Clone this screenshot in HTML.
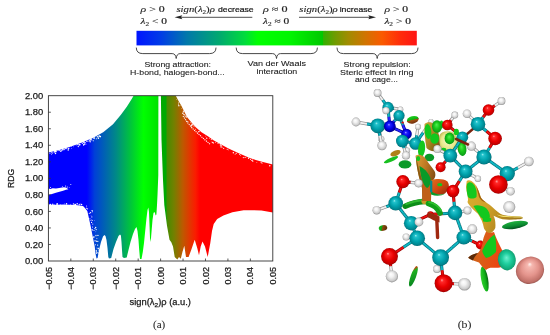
<!DOCTYPE html>
<html><head><meta charset="utf-8"><title>NCI analysis</title>
<style>html,body{margin:0;padding:0;background:#fff;} svg{display:block;}</style>
</head><body>
<svg width='550' height='335' viewBox='0 0 550 335'><defs>
<linearGradient id="bar" x1="136.5" x2="416.8" y1="0" y2="0" gradientUnits="userSpaceOnUse">
 <stop offset="0" stop-color="#0014ff"/>
 <stop offset="0.087" stop-color="#003ce6"/>
 <stop offset="0.18" stop-color="#0078aa"/>
 <stop offset="0.298" stop-color="#00aa6e"/>
 <stop offset="0.387" stop-color="#00dc3c"/>
 <stop offset="0.4335" stop-color="#00ff00"/>
 <stop offset="0.547" stop-color="#00f500"/>
 <stop offset="0.6636" stop-color="#00c800"/>
 <stop offset="0.667" stop-color="#32af00"/>
 <stop offset="0.708" stop-color="#6e9b00"/>
 <stop offset="0.7545" stop-color="#a08c00"/>
 <stop offset="0.8187" stop-color="#d27300"/>
 <stop offset="0.876" stop-color="#fa5a00"/>
 <stop offset="0.94" stop-color="#ff2d0a"/>
 <stop offset="1" stop-color="#ff1414"/>
</linearGradient>
<linearGradient id="gl" x1="48" x2="159" y1="0" y2="0" gradientUnits="userSpaceOnUse">
 <stop offset="0" stop-color="#0000ff"/>
 <stop offset="0.35" stop-color="#0000ff"/>
 <stop offset="0.42" stop-color="#0040d8"/>
 <stop offset="0.61" stop-color="#008888"/>
 <stop offset="0.75" stop-color="#00c838"/>
 <stop offset="0.86" stop-color="#00ff00"/>
 <stop offset="1" stop-color="#00e000"/>
</linearGradient>
<linearGradient id="gr" x1="161" x2="273" y1="0" y2="0" gradientUnits="userSpaceOnUse">
 <stop offset="0" stop-color="#00aa00"/>
 <stop offset="0.0446" stop-color="#00a800"/>
 <stop offset="0.0536" stop-color="#468c00"/>
 <stop offset="0.116" stop-color="#738000"/>
 <stop offset="0.196" stop-color="#be5800"/>
 <stop offset="0.25" stop-color="#de3a00"/>
 <stop offset="0.308" stop-color="#fa1c00"/>
 <stop offset="0.348" stop-color="#ff0000"/>
 <stop offset="1" stop-color="#ff0000"/>
</linearGradient>
<radialGradient id="aC" cx="0.5" cy="0.5" r="0.55" fx="0.4" fy="0.32">
 <stop offset="0" stop-color="#a0f0f0"/>
 <stop offset="0.16" stop-color="#22c2cc"/>
 <stop offset="0.55" stop-color="#00a2ac"/>
 <stop offset="0.85" stop-color="#00828c"/>
 <stop offset="1" stop-color="#00464e"/>
</radialGradient>
<radialGradient id="aO" cx="0.5" cy="0.5" r="0.55" fx="0.4" fy="0.32">
 <stop offset="0" stop-color="#ffa0a0"/>
 <stop offset="0.16" stop-color="#ff2828"/>
 <stop offset="0.55" stop-color="#e80000"/>
 <stop offset="0.85" stop-color="#c00000"/>
 <stop offset="1" stop-color="#680000"/>
</radialGradient>
<radialGradient id="aH" cx="0.5" cy="0.5" r="0.55" fx="0.4" fy="0.32">
 <stop offset="0" stop-color="#ffffff"/>
 <stop offset="0.35" stop-color="#f2f2f2"/>
 <stop offset="0.75" stop-color="#cccccc"/>
 <stop offset="1" stop-color="#7a7a7a"/>
</radialGradient>
<radialGradient id="aN" cx="0.5" cy="0.5" r="0.55" fx="0.42" fy="0.34">
 <stop offset="0" stop-color="#a0a0ff"/>
 <stop offset="0.22" stop-color="#2020ff"/>
 <stop offset="0.6" stop-color="#0000e0"/>
 <stop offset="1" stop-color="#000070"/>
</radialGradient>
<radialGradient id="aP" cx="0.5" cy="0.5" r="0.55" fx="0.62" fy="0.3">
 <stop offset="0" stop-color="#fff4f0"/>
 <stop offset="0.15" stop-color="#f6b8b0"/>
 <stop offset="0.55" stop-color="#e4948c"/>
 <stop offset="0.85" stop-color="#c07068"/>
 <stop offset="1" stop-color="#7c4440"/>
</radialGradient>
<radialGradient id="aT" cx="0.5" cy="0.5" r="0.55" fx="0.5" fy="0.4">
 <stop offset="0" stop-color="#70f0d0"/>
 <stop offset="0.45" stop-color="#20d0a0"/>
 <stop offset="0.85" stop-color="#10a878"/>
 <stop offset="1" stop-color="#087050"/>
</radialGradient>
<radialGradient id="nY" cx="0.5" cy="0.5" r="0.6" fx="0.4" fy="0.4">
 <stop offset="0" stop-color="#fafac8"/>
 <stop offset="0.6" stop-color="#e8e88c"/>
 <stop offset="1" stop-color="#b8b048"/>
</radialGradient>
<linearGradient id="nG" x1="0" y1="0" x2="0" y2="1">
 <stop offset="0" stop-color="#40f040"/>
 <stop offset="0.5" stop-color="#00c000"/>
 <stop offset="1" stop-color="#006000"/>
</linearGradient>
<linearGradient id="nGO" x1="0" y1="0" x2="0" y2="1">
 <stop offset="0" stop-color="#20d020"/>
 <stop offset="0.45" stop-color="#10b010"/>
 <stop offset="0.55" stop-color="#a05010"/>
 <stop offset="1" stop-color="#703010"/>
</linearGradient>
<linearGradient id="nGold" x1="0" y1="0" x2="1" y2="1">
 <stop offset="0" stop-color="#e0c040"/>
 <stop offset="0.5" stop-color="#c09020"/>
 <stop offset="1" stop-color="#805010"/>
</linearGradient>
<linearGradient id="nOr" x1="0" y1="0" x2="1" y2="1">
 <stop offset="0" stop-color="#e07020"/>
 <stop offset="0.5" stop-color="#d04810"/>
 <stop offset="1" stop-color="#8a2a10"/>
</linearGradient>
<linearGradient id="nGB" x1="0" y1="0" x2="1" y2="0.3">
 <stop offset="0" stop-color="#20c020"/>
 <stop offset="0.45" stop-color="#10a010"/>
 <stop offset="0.55" stop-color="#8a4a10"/>
 <stop offset="1" stop-color="#603008"/>
</linearGradient>
<linearGradient id="nGold2" x1="0" y1="0" x2="1" y2="0.4">
 <stop offset="0" stop-color="#d8b030"/>
 <stop offset="0.5" stop-color="#d0a028"/>
 <stop offset="1" stop-color="#a07818"/>
</linearGradient>
<linearGradient id="nOr2" x1="0" y1="0" x2="1" y2="0.2">
 <stop offset="0" stop-color="#b86018"/>
 <stop offset="0.4" stop-color="#d86018"/>
 <stop offset="1" stop-color="#f04010"/>
</linearGradient>
<linearGradient id="nGv" x1="0" y1="0" x2="1" y2="0">
 <stop offset="0" stop-color="#30d030"/>
 <stop offset="0.6" stop-color="#10b018"/>
 <stop offset="1" stop-color="#066010"/>
</linearGradient>
<linearGradient id="nDG" x1="0" y1="0" x2="0" y2="1">
 <stop offset="0" stop-color="#20b040"/>
 <stop offset="0.6" stop-color="#0a8a30"/>
 <stop offset="1" stop-color="#045020"/>
</linearGradient>
<linearGradient id="nGold3" x1="0" y1="0" x2="1" y2="1">
 <stop offset="0" stop-color="#c8a838"/>
 <stop offset="0.5" stop-color="#a88420"/>
 <stop offset="1" stop-color="#6a4a10"/>
</linearGradient>
<radialGradient id="nGb" cx="0.5" cy="0.5" r="0.55" fx="0.45" fy="0.35">
 <stop offset="0" stop-color="#50f050"/>
 <stop offset="0.5" stop-color="#18c818"/>
 <stop offset="1" stop-color="#08901a"/>
</radialGradient>
<linearGradient id="nGr" x1="0" y1="0" x2="0.3" y2="1">
 <stop offset="0" stop-color="#d04010"/>
 <stop offset="0.18" stop-color="#b05010"/>
 <stop offset="0.3" stop-color="#20b020"/>
 <stop offset="1" stop-color="#0a8a20"/>
</linearGradient>
<linearGradient id="nOrB" x1="0" y1="0" x2="1" y2="0.6">
 <stop offset="0" stop-color="#d8a038"/>
 <stop offset="0.45" stop-color="#c07a24"/>
 <stop offset="1" stop-color="#7a4610"/>
</linearGradient>
</defs>
<text x='140.6' y='12.3' font-size='8.6' font-family='"Liberation Serif", serif' fill='#222' stroke='#222' stroke-width='0.1' textLength='24.2' lengthAdjust='spacingAndGlyphs'><tspan font-style='italic'>ρ</tspan> &gt; <tspan stroke-width='0.2'>0</tspan></text><text x='140.6' y='24.3' font-size='8.6' font-family='"Liberation Serif", serif' fill='#222' stroke='#222' stroke-width='0.1' textLength='26.5' lengthAdjust='spacingAndGlyphs'><tspan font-style='italic'>λ</tspan><tspan font-size='5.5' dy='1.6'>2</tspan><tspan dy='-1.6'> </tspan>&lt; <tspan stroke-width='0.2'>0</tspan></text><text x='263.0' y='12.3' font-size='8.6' font-family='"Liberation Serif", serif' fill='#222' stroke='#222' stroke-width='0.1' textLength='24.5' lengthAdjust='spacingAndGlyphs'><tspan font-style='italic'>ρ</tspan> ≈ <tspan stroke-width='0.2'>0</tspan></text><text x='263.0' y='24.3' font-size='8.6' font-family='"Liberation Serif", serif' fill='#222' stroke='#222' stroke-width='0.1' textLength='26.2' lengthAdjust='spacingAndGlyphs'><tspan font-style='italic'>λ</tspan><tspan font-size='5.5' dy='1.6'>2</tspan><tspan dy='-1.6'> </tspan>≈ <tspan stroke-width='0.2'>0</tspan></text><text x='384.4' y='12.3' font-size='8.6' font-family='"Liberation Serif", serif' fill='#222' stroke='#222' stroke-width='0.1' textLength='23.8' lengthAdjust='spacingAndGlyphs'><tspan font-style='italic'>ρ</tspan> &gt; <tspan stroke-width='0.2'>0</tspan></text><text x='384.4' y='24.3' font-size='8.6' font-family='"Liberation Serif", serif' fill='#222' stroke='#222' stroke-width='0.1' textLength='26.6' lengthAdjust='spacingAndGlyphs'><tspan font-style='italic'>λ</tspan><tspan font-size='5.5' dy='1.6'>2</tspan><tspan dy='-1.6'> </tspan>&gt; <tspan stroke-width='0.2'>0</tspan></text><text x='176.4' y='12.3' font-size='8.4' font-family='"Liberation Serif", serif' fill='#222' stroke='#222' stroke-width='0.1' textLength='38.5' lengthAdjust='spacingAndGlyphs'><tspan font-style='italic'>sign</tspan>(<tspan font-style='italic'>λ</tspan><tspan font-size='5.5' dy='1.6'>2</tspan><tspan dy='-1.6'>)</tspan><tspan font-style='italic'>ρ</tspan></text><text x='218.0' y='12.3' font-size='7.6' font-family='"Liberation Sans", Arial, sans-serif' fill='#1a1a1a' stroke='#1a1a1a' stroke-width='0.22' textLength="35.7" lengthAdjust="spacingAndGlyphs" >decrease</text><text x='299.3' y='12.3' font-size='8.4' font-family='"Liberation Serif", serif' fill='#222' stroke='#222' stroke-width='0.1' textLength='38.5' lengthAdjust='spacingAndGlyphs'><tspan font-style='italic'>sign</tspan>(<tspan font-style='italic'>λ</tspan><tspan font-size='5.5' dy='1.6'>2</tspan><tspan dy='-1.6'>)</tspan><tspan font-style='italic'>ρ</tspan></text><text x='339.7' y='12.3' font-size='7.6' font-family='"Liberation Sans", Arial, sans-serif' fill='#1a1a1a' stroke='#1a1a1a' stroke-width='0.22' textLength="32.7" lengthAdjust="spacingAndGlyphs" >increase</text><line x1='180' y1='17.3' x2='252.3' y2='17.3' stroke='#222' stroke-width='0.8'/><path d='M174.6,17.3 L182.3,15.3 L181,17.3 L182.3,19.3 Z' fill='#222'/><line x1='299' y1='17.3' x2='371' y2='17.3' stroke='#222' stroke-width='0.8'/><path d='M376,17.3 L368.3,15.3 L369.6,17.3 L368.3,19.3 Z' fill='#222'/><rect x='136.5' y='30.8' width='280.3' height='14.6' fill='url(#bar)'/><path d='M136.3,47.6 Q136.3,53.6 142.8,53.6 L172.2,53.6 Q175.7,53.6 176.2,58.5 Q176.7,53.6 180.2,53.6 L209.5,53.6 Q216.0,53.6 216.0,47.6' fill='none' stroke='#333' stroke-width='0.9'/><path d='M236.2,47.6 Q236.2,53.6 242.7,53.6 L272.5,53.6 Q276.0,53.6 276.5,58.5 Q277.0,53.6 280.5,53.6 L310.9,53.6 Q317.4,53.6 317.4,47.6' fill='none' stroke='#333' stroke-width='0.9'/><path d='M337.0,47.6 Q337.0,53.6 343.5,53.6 L373.2,53.6 Q376.7,53.6 377.2,58.5 Q377.7,53.6 381.2,53.6 L411.5,53.6 Q418.0,53.6 418.0,47.6' fill='none' stroke='#333' stroke-width='0.9'/><text x='144.4' y='66.7' font-size='7.4' font-family='"Liberation Sans", Arial, sans-serif' fill='#222' stroke='#222' stroke-width='0.1' textLength="66.6" lengthAdjust="spacingAndGlyphs" >Strong attraction:</text><text x='130.0' y='74.5' font-size='7.4' font-family='"Liberation Sans", Arial, sans-serif' fill='#222' stroke='#222' stroke-width='0.1' textLength="94.6" lengthAdjust="spacingAndGlyphs" >H-bond, halogen-bond...</text><text x='247.5' y='65.9' font-size='7.4' font-family='"Liberation Sans", Arial, sans-serif' fill='#222' stroke='#222' stroke-width='0.1' textLength="58.5" lengthAdjust="spacingAndGlyphs" >Van der Waals</text><text x='256.5' y='73.8' font-size='7.4' font-family='"Liberation Sans", Arial, sans-serif' fill='#222' stroke='#222' stroke-width='0.1' textLength="40.8" lengthAdjust="spacingAndGlyphs" >interaction</text><text x='343.6' y='66.6' font-size='7.4' font-family='"Liberation Sans", Arial, sans-serif' fill='#222' stroke='#222' stroke-width='0.1' textLength="67.0" lengthAdjust="spacingAndGlyphs" >Strong repulsion:</text><text x='340.0' y='74.5' font-size='7.4' font-family='"Liberation Sans", Arial, sans-serif' fill='#222' stroke='#222' stroke-width='0.1' textLength="73.4" lengthAdjust="spacingAndGlyphs" >Steric effect in ring</text><text x='355.0' y='82.2' font-size='7.4' font-family='"Liberation Sans", Arial, sans-serif' fill='#222' stroke='#222' stroke-width='0.1' textLength="43.0" lengthAdjust="spacingAndGlyphs" >and cage...</text><path d='M48.4,152.6 L57.8,150.4 L69.6,147.0 L81.5,142.7 L93.3,137.7 L103.2,132.3 L113,124.2 L120.9,114.7 L126.8,106.8 L131.7,98.9 L133.6,95.7 L158.4,95.7 L158.3,175 L157.5,195 L157,205 L156.4,214.5 L155.6,215.5 L155,213 L154.3,212 L153.5,213 L152.5,220 L151.5,232 L150.7,242 L150,238 L149.5,225 L149,212 L148.3,207.5 L147.5,210 L146.5,218 L145.3,230 L144,243 L142.8,252 L141.5,259 L140,259 L139.2,250 L138.5,240 L137.5,231 L136.5,227 L135,229 L133,234 L130.5,242 L128.5,250 L126.7,257.5 L124,258 L122.5,257 L122,250 L121.5,242 L120.9,235.5 L120,234.5 L118.5,236 L116,242 L113.5,249 L111.2,258 L109,258.5 L108.3,257 L107.5,248 L106.5,240 L105.5,236 L104.4,235 L103,236.5 L101,242 L99,250 L97.6,258 L96.5,258.5 L95.6,254 L94.7,246.3 L92.8,237 L91,227.8 L89,218.5 L87.3,211 L84.5,207.5 L83,206 L75.9,204.9 L64,204.6 L48.4,204.9 Z' fill='url(#gl)'/><path d='M160.9,95.7 L175.8,95.7 L178.8,101.5 L181,105 L184,111 L187,117 L191.5,122.5 L196,127.4 L201.5,132.2 L207.9,136.3 L213.5,140.3 L219.8,143.8 L228,148.3 L237.7,152.8 L250.3,158.3 L262,161.8 L272.8,164.5 L272.8,212.6 L261.5,210.4 L243.6,210.2 L232.4,212.3 L223.4,215.5 L217.2,218.9 L213.7,224 L212,231 L210.3,243 L207.7,257 L205,246.6 L202.5,241.4 L200.7,246.6 L199,255.3 L197.3,248.3 L194.7,239.7 L191.2,250 L188.6,257 L186,257 L184.3,245.7 L182.5,251.8 L180.8,258.7 L179,257 L177.3,259.6 L174.7,257 L173,246.6 L171.3,242.3 L169.5,239.7 L167,225.8 L164.3,205 L163,180 L161.5,140 Z' fill='url(#gr)'/><path d='M48.4,188.4 L50.5,189 L52.6,188.2 L56,188.4 L59.2,187.9 L62,187.6 L63.8,187.3 L66,187.4 L68.4,189.2 L66,189.8 L63.1,190.8 L59.5,191.8 L55.9,192.8 L52,193.9 L48.4,195 Z' fill='#fff'/><g fill='#fff'><circle cx='65.6' cy='186' r='0.6'/><circle cx='67.4' cy='186.9' r='0.5'/><circle cx='70.8' cy='184.6' r='0.5'/><circle cx='69.2' cy='187.6' r='0.45'/><circle cx='62.5' cy='186.5' r='0.45'/><circle cx='50.5' cy='187.6' r='0.5'/></g><g fill='#ffffff'><circle cx='65.78' cy='148.58' r='0.61'/><circle cx='52.59' cy='153.01' r='0.50'/><circle cx='51.80' cy='153.11' r='0.36'/><circle cx='71.54' cy='146.67' r='0.39'/><circle cx='71.74' cy='148.70' r='0.40'/><circle cx='60.79' cy='151.25' r='0.73'/><circle cx='79.18' cy='144.57' r='0.74'/><circle cx='51.45' cy='154.40' r='0.47'/><circle cx='56.23' cy='151.19' r='0.47'/><circle cx='91.22' cy='139.13' r='0.58'/><circle cx='82.40' cy='143.31' r='0.57'/><circle cx='51.84' cy='152.14' r='0.43'/><circle cx='84.56' cy='142.55' r='0.48'/><circle cx='79.67' cy='144.55' r='0.47'/><circle cx='90.66' cy='140.86' r='0.45'/><circle cx='79.17' cy='144.96' r='0.70'/><circle cx='86.91' cy='141.19' r='0.74'/><circle cx='54.96' cy='152.12' r='0.65'/><circle cx='56.83' cy='151.88' r='0.37'/><circle cx='84.35' cy='143.78' r='0.58'/><circle cx='94.37' cy='137.99' r='0.63'/><circle cx='80.25' cy='144.74' r='0.53'/><circle cx='93.32' cy='140.71' r='0.54'/><circle cx='83.45' cy='142.24' r='0.63'/><circle cx='83.62' cy='145.03' r='0.68'/><circle cx='63.84' cy='149.64' r='0.62'/><circle cx='49.87' cy='153.43' r='0.42'/><circle cx='54.75' cy='151.46' r='0.66'/><circle cx='55.48' cy='151.59' r='0.51'/><circle cx='93.98' cy='137.74' r='0.53'/><circle cx='78.29' cy='146.56' r='0.68'/><circle cx='93.78' cy='138.23' r='0.52'/><circle cx='68.21' cy='150.05' r='0.73'/><circle cx='56.60' cy='151.19' r='0.44'/><circle cx='61.20' cy='150.68' r='0.59'/><circle cx='62.51' cy='149.36' r='0.52'/><circle cx='68.46' cy='148.84' r='0.73'/><circle cx='85.16' cy='142.56' r='0.60'/><circle cx='84.06' cy='141.98' r='0.71'/><circle cx='90.17' cy='141.75' r='0.67'/><circle cx='69.55' cy='148.03' r='0.39'/><circle cx='81.94' cy='142.88' r='0.38'/><circle cx='59.70' cy='150.35' r='0.49'/><circle cx='51.29' cy='152.23' r='0.41'/><circle cx='54.04' cy='152.20' r='0.36'/><circle cx='94.72' cy='138.74' r='0.41'/><circle cx='62.11' cy='150.05' r='0.50'/><circle cx='55.53' cy='153.41' r='0.75'/><circle cx='73.51' cy='146.87' r='0.38'/><circle cx='54.07' cy='152.14' r='0.46'/><circle cx='91.86' cy='138.83' r='0.36'/><circle cx='98.28' cy='136.47' r='0.41'/><circle cx='77.20' cy='144.58' r='0.56'/><circle cx='100.16' cy='136.73' r='0.63'/><circle cx='62.59' cy='149.96' r='0.42'/><circle cx='89.31' cy='140.86' r='0.66'/><circle cx='66.13' cy='148.61' r='0.67'/><circle cx='100.45' cy='136.52' r='0.67'/><circle cx='91.93' cy='140.47' r='0.44'/><circle cx='76.07' cy='145.59' r='0.36'/><circle cx='50.06' cy='152.93' r='0.45'/><circle cx='85.86' cy='143.92' r='0.53'/><circle cx='98.39' cy='138.26' r='0.73'/><circle cx='67.97' cy='148.07' r='0.44'/><circle cx='59.08' cy='150.60' r='0.60'/><circle cx='96.35' cy='138.74' r='0.54'/><circle cx='83.63' cy='144.22' r='0.38'/><circle cx='84.17' cy='144.44' r='0.66'/><circle cx='88.15' cy='141.18' r='0.42'/><circle cx='89.98' cy='140.00' r='0.67'/><circle cx='99.10' cy='135.61' r='0.51'/><circle cx='98.39' cy='137.14' r='0.42'/><circle cx='55.31' cy='151.45' r='0.71'/><circle cx='90.71' cy='139.29' r='0.68'/><circle cx='99.89' cy='136.05' r='0.49'/><circle cx='77.53' cy='144.59' r='0.36'/><circle cx='99.43' cy='136.28' r='0.56'/><circle cx='97.32' cy='136.70' r='0.70'/><circle cx='91.75' cy='138.97' r='0.45'/><circle cx='64.19' cy='149.20' r='0.58'/></g><g fill='#ffffff'><circle cx='191.95' cy='124.60' r='0.40'/><circle cx='261.11' cy='162.55' r='0.53'/><circle cx='223.70' cy='148.39' r='0.52'/><circle cx='261.99' cy='163.07' r='0.56'/><circle cx='218.06' cy='143.52' r='0.53'/><circle cx='186.32' cy='116.98' r='0.67'/><circle cx='185.21' cy='116.07' r='0.64'/><circle cx='221.41' cy='145.75' r='0.56'/><circle cx='220.86' cy='146.49' r='0.39'/><circle cx='221.87' cy='145.88' r='0.46'/><circle cx='245.04' cy='157.37' r='0.57'/><circle cx='243.31' cy='157.62' r='0.53'/><circle cx='227.24' cy='149.31' r='0.55'/><circle cx='236.20' cy='153.37' r='0.56'/><circle cx='212.42' cy='142.27' r='0.63'/><circle cx='256.84' cy='162.60' r='0.45'/><circle cx='221.10' cy='147.08' r='0.69'/><circle cx='183.75' cy='112.01' r='0.53'/><circle cx='180.12' cy='105.13' r='0.38'/><circle cx='233.34' cy='152.82' r='0.71'/><circle cx='183.78' cy='114.35' r='0.61'/><circle cx='182.80' cy='113.28' r='0.74'/><circle cx='187.84' cy='121.62' r='0.51'/><circle cx='213.34' cy='142.93' r='0.68'/><circle cx='184.68' cy='114.85' r='0.56'/><circle cx='199.19' cy='131.19' r='0.48'/><circle cx='239.72' cy='154.34' r='0.57'/><circle cx='209.44' cy='138.14' r='0.48'/><circle cx='228.56' cy='149.95' r='0.38'/><circle cx='269.79' cy='165.66' r='0.74'/><circle cx='181.84' cy='108.56' r='0.37'/><circle cx='245.95' cy='157.33' r='0.40'/><circle cx='206.73' cy='138.13' r='0.68'/><circle cx='192.17' cy='124.27' r='0.72'/><circle cx='222.57' cy='147.21' r='0.39'/><circle cx='178.46' cy='104.01' r='0.52'/><circle cx='178.91' cy='105.87' r='0.60'/><circle cx='248.56' cy='158.24' r='0.69'/><circle cx='178.69' cy='105.17' r='0.53'/><circle cx='198.81' cy='131.63' r='0.72'/><circle cx='192.94' cy='125.08' r='0.56'/><circle cx='190.54' cy='122.38' r='0.41'/><circle cx='178.73' cy='102.82' r='0.47'/><circle cx='195.38' cy='129.24' r='0.47'/><circle cx='215.50' cy='142.25' r='0.49'/><circle cx='176.77' cy='99.34' r='0.36'/><circle cx='240.64' cy='155.54' r='0.43'/><circle cx='211.89' cy='141.89' r='0.39'/><circle cx='250.45' cy='159.50' r='0.55'/><circle cx='252.30' cy='159.99' r='0.55'/><circle cx='235.15' cy='154.21' r='0.49'/><circle cx='251.85' cy='160.51' r='0.60'/><circle cx='205.67' cy='136.02' r='0.37'/><circle cx='183.39' cy='111.19' r='0.65'/><circle cx='191.91' cy='124.01' r='0.38'/><circle cx='252.78' cy='161.19' r='0.62'/><circle cx='194.01' cy='126.43' r='0.47'/><circle cx='211.26' cy='139.57' r='0.53'/><circle cx='191.38' cy='125.76' r='0.74'/><circle cx='220.47' cy='145.10' r='0.74'/></g><polyline points='183,116 187.5,122.5 192.5,128.5 198.5,134 204.5,139.5 210.5,144.5' fill='none' stroke='#fff' stroke-width='1.1' stroke-dasharray='1.1 0.9'/><g fill='#ffffff'><circle cx='91.45' cy='220.82' r='0.35'/><circle cx='92.76' cy='224.10' r='0.53'/><circle cx='91.05' cy='215.51' r='0.35'/><circle cx='90.04' cy='218.88' r='0.49'/><circle cx='86.40' cy='208.56' r='0.46'/><circle cx='91.85' cy='216.90' r='0.54'/><circle cx='97.34' cy='241.37' r='0.60'/><circle cx='96.97' cy='247.96' r='0.46'/><circle cx='96.61' cy='253.14' r='0.60'/><circle cx='93.63' cy='236.84' r='0.64'/><circle cx='98.35' cy='248.42' r='0.61'/><circle cx='95.48' cy='244.79' r='0.53'/><circle cx='96.19' cy='229.51' r='0.63'/><circle cx='97.63' cy='245.06' r='0.66'/><circle cx='96.91' cy='238.13' r='0.43'/><circle cx='86.26' cy='208.02' r='0.48'/><circle cx='92.08' cy='210.52' r='0.55'/><circle cx='95.97' cy='235.63' r='0.59'/><circle cx='92.16' cy='229.56' r='0.63'/><circle cx='96.42' cy='241.45' r='0.54'/><circle cx='93.83' cy='237.59' r='0.61'/><circle cx='89.89' cy='218.32' r='0.44'/><circle cx='94.89' cy='240.83' r='0.61'/><circle cx='98.05' cy='252.53' r='0.48'/><circle cx='94.95' cy='228.51' r='0.62'/><circle cx='95.97' cy='235.10' r='0.38'/><circle cx='89.31' cy='213.25' r='0.61'/><circle cx='92.49' cy='220.34' r='0.35'/><circle cx='87.52' cy='208.84' r='0.59'/><circle cx='96.89' cy='238.59' r='0.45'/><circle cx='94.03' cy='230.54' r='0.51'/><circle cx='92.64' cy='211.06' r='0.42'/><circle cx='100.95' cy='252.31' r='0.36'/><circle cx='95.67' cy='227.38' r='0.69'/><circle cx='92.50' cy='227.53' r='0.42'/><circle cx='96.59' cy='251.24' r='0.55'/><circle cx='90.53' cy='212.69' r='0.68'/><circle cx='92.27' cy='211.84' r='0.53'/><circle cx='98.81' cy='248.12' r='0.43'/><circle cx='97.57' cy='248.79' r='0.36'/><circle cx='86.63' cy='206.02' r='0.51'/><circle cx='90.56' cy='220.63' r='0.47'/><circle cx='94.35' cy='220.52' r='0.35'/><circle cx='98.54' cy='241.14' r='0.39'/><circle cx='99.09' cy='250.01' r='0.67'/><circle cx='91.32' cy='219.87' r='0.49'/><circle cx='98.72' cy='253.58' r='0.48'/><circle cx='92.30' cy='226.49' r='0.37'/><circle cx='92.04' cy='210.37' r='0.45'/><circle cx='96.68' cy='250.74' r='0.44'/><circle cx='92.78' cy='230.50' r='0.48'/><circle cx='100.44' cy='251.30' r='0.63'/><circle cx='97.93' cy='235.40' r='0.68'/><circle cx='95.83' cy='231.79' r='0.37'/><circle cx='95.99' cy='240.75' r='0.61'/><circle cx='94.38' cy='236.75' r='0.37'/><circle cx='96.22' cy='250.37' r='0.52'/><circle cx='91.54' cy='222.48' r='0.61'/><circle cx='96.95' cy='252.69' r='0.58'/><circle cx='92.39' cy='220.18' r='0.49'/></g><g fill='#ffffff'><circle cx='54.20' cy='204.41' r='0.43'/><circle cx='79.89' cy='204.79' r='0.44'/><circle cx='80.02' cy='204.03' r='0.53'/><circle cx='53.23' cy='204.41' r='0.39'/><circle cx='60.25' cy='204.34' r='0.45'/><circle cx='57.35' cy='203.91' r='0.70'/><circle cx='74.42' cy='204.24' r='0.52'/><circle cx='66.59' cy='204.09' r='0.49'/><circle cx='50.54' cy='204.38' r='0.74'/><circle cx='52.75' cy='204.09' r='0.60'/><circle cx='78.36' cy='204.86' r='0.46'/><circle cx='57.01' cy='204.13' r='0.53'/><circle cx='81.61' cy='204.53' r='0.70'/><circle cx='49.15' cy='204.58' r='0.63'/><circle cx='79.53' cy='204.76' r='0.58'/><circle cx='48.39' cy='204.31' r='0.72'/><circle cx='77.21' cy='203.84' r='0.74'/><circle cx='57.01' cy='204.39' r='0.41'/><circle cx='66.54' cy='203.69' r='0.73'/><circle cx='73.46' cy='203.91' r='0.66'/><circle cx='64.28' cy='203.82' r='0.37'/><circle cx='75.54' cy='204.46' r='0.72'/><circle cx='70.80' cy='204.27' r='0.40'/><circle cx='57.12' cy='203.82' r='0.63'/><circle cx='52.28' cy='204.50' r='0.56'/></g><rect x='48.4' y='95.7' width='224.4' height='165.3' fill='none' stroke='#333' stroke-width='0.9'/><text x='43.2' y='264.1' font-size='9.0' font-family='"Liberation Sans", Arial, sans-serif' fill='#1a1a1a' stroke='#1a1a1a' stroke-width='0.25' text-anchor="end" textLength="18.3" lengthAdjust="spacingAndGlyphs" >0.00</text><line x1='48.4' y1='244.47' x2='50.9' y2='244.47' stroke='#333' stroke-width='0.8'/><text x='43.2' y='247.57' font-size='9.0' font-family='"Liberation Sans", Arial, sans-serif' fill='#1a1a1a' stroke='#1a1a1a' stroke-width='0.25' text-anchor="end" textLength="18.3" lengthAdjust="spacingAndGlyphs" >0.20</text><line x1='48.4' y1='227.94' x2='50.9' y2='227.94' stroke='#333' stroke-width='0.8'/><text x='43.2' y='231.04' font-size='9.0' font-family='"Liberation Sans", Arial, sans-serif' fill='#1a1a1a' stroke='#1a1a1a' stroke-width='0.25' text-anchor="end" textLength="18.3" lengthAdjust="spacingAndGlyphs" >0.40</text><line x1='48.4' y1='211.41' x2='50.9' y2='211.41' stroke='#333' stroke-width='0.8'/><text x='43.2' y='214.51' font-size='9.0' font-family='"Liberation Sans", Arial, sans-serif' fill='#1a1a1a' stroke='#1a1a1a' stroke-width='0.25' text-anchor="end" textLength="18.3" lengthAdjust="spacingAndGlyphs" >0.60</text><line x1='48.4' y1='194.88' x2='50.9' y2='194.88' stroke='#333' stroke-width='0.8'/><text x='43.2' y='197.98' font-size='9.0' font-family='"Liberation Sans", Arial, sans-serif' fill='#1a1a1a' stroke='#1a1a1a' stroke-width='0.25' text-anchor="end" textLength="18.3" lengthAdjust="spacingAndGlyphs" >0.80</text><line x1='48.4' y1='178.35' x2='50.9' y2='178.35' stroke='#333' stroke-width='0.8'/><text x='43.2' y='181.45' font-size='9.0' font-family='"Liberation Sans", Arial, sans-serif' fill='#1a1a1a' stroke='#1a1a1a' stroke-width='0.25' text-anchor="end" textLength="18.3" lengthAdjust="spacingAndGlyphs" >1.00</text><line x1='48.4' y1='161.82' x2='50.9' y2='161.82' stroke='#333' stroke-width='0.8'/><text x='43.2' y='164.92' font-size='9.0' font-family='"Liberation Sans", Arial, sans-serif' fill='#1a1a1a' stroke='#1a1a1a' stroke-width='0.25' text-anchor="end" textLength="18.3" lengthAdjust="spacingAndGlyphs" >1.20</text><line x1='48.4' y1='145.29' x2='50.9' y2='145.29' stroke='#333' stroke-width='0.8'/><text x='43.2' y='148.39' font-size='9.0' font-family='"Liberation Sans", Arial, sans-serif' fill='#1a1a1a' stroke='#1a1a1a' stroke-width='0.25' text-anchor="end" textLength="18.3" lengthAdjust="spacingAndGlyphs" >1.40</text><line x1='48.4' y1='128.76' x2='50.9' y2='128.76' stroke='#333' stroke-width='0.8'/><text x='43.2' y='131.86' font-size='9.0' font-family='"Liberation Sans", Arial, sans-serif' fill='#1a1a1a' stroke='#1a1a1a' stroke-width='0.25' text-anchor="end" textLength="18.3" lengthAdjust="spacingAndGlyphs" >1.60</text><line x1='48.4' y1='112.23' x2='50.9' y2='112.23' stroke='#333' stroke-width='0.8'/><text x='43.2' y='115.33' font-size='9.0' font-family='"Liberation Sans", Arial, sans-serif' fill='#1a1a1a' stroke='#1a1a1a' stroke-width='0.25' text-anchor="end" textLength="18.3" lengthAdjust="spacingAndGlyphs" >1.80</text><text x='43.2' y='98.8' font-size='9.0' font-family='"Liberation Sans", Arial, sans-serif' fill='#1a1a1a' stroke='#1a1a1a' stroke-width='0.25' text-anchor="end" textLength="18.3" lengthAdjust="spacingAndGlyphs" >2.00</text><text transform='translate(51.50,267) rotate(-90)' x='0' y='0' font-size='9' text-anchor='end' font-family='"Liberation Sans", sans-serif' fill='#1a1a1a' stroke='#1a1a1a' stroke-width='0.25'>−0.05</text><line x1='70.84' y1='261.0' x2='70.84' y2='258.5' stroke='#333' stroke-width='0.8'/><text transform='translate(73.94,267) rotate(-90)' x='0' y='0' font-size='9' text-anchor='end' font-family='"Liberation Sans", sans-serif' fill='#1a1a1a' stroke='#1a1a1a' stroke-width='0.25'>−0.04</text><line x1='93.28' y1='261.0' x2='93.28' y2='258.5' stroke='#333' stroke-width='0.8'/><text transform='translate(96.38,267) rotate(-90)' x='0' y='0' font-size='9' text-anchor='end' font-family='"Liberation Sans", sans-serif' fill='#1a1a1a' stroke='#1a1a1a' stroke-width='0.25'>−0.03</text><line x1='115.72' y1='261.0' x2='115.72' y2='258.5' stroke='#333' stroke-width='0.8'/><text transform='translate(118.82,267) rotate(-90)' x='0' y='0' font-size='9' text-anchor='end' font-family='"Liberation Sans", sans-serif' fill='#1a1a1a' stroke='#1a1a1a' stroke-width='0.25'>−0.02</text><line x1='138.16' y1='261.0' x2='138.16' y2='258.5' stroke='#333' stroke-width='0.8'/><text transform='translate(141.26,267) rotate(-90)' x='0' y='0' font-size='9' text-anchor='end' font-family='"Liberation Sans", sans-serif' fill='#1a1a1a' stroke='#1a1a1a' stroke-width='0.25'>−0.01</text><line x1='160.60' y1='261.0' x2='160.60' y2='258.5' stroke='#333' stroke-width='0.8'/><text transform='translate(163.70,267) rotate(-90)' x='0' y='0' font-size='9' text-anchor='end' font-family='"Liberation Sans", sans-serif' fill='#1a1a1a' stroke='#1a1a1a' stroke-width='0.25'>0.00</text><line x1='183.04' y1='261.0' x2='183.04' y2='258.5' stroke='#333' stroke-width='0.8'/><text transform='translate(186.14,267) rotate(-90)' x='0' y='0' font-size='9' text-anchor='end' font-family='"Liberation Sans", sans-serif' fill='#1a1a1a' stroke='#1a1a1a' stroke-width='0.25'>0.01</text><line x1='205.48' y1='261.0' x2='205.48' y2='258.5' stroke='#333' stroke-width='0.8'/><text transform='translate(208.58,267) rotate(-90)' x='0' y='0' font-size='9' text-anchor='end' font-family='"Liberation Sans", sans-serif' fill='#1a1a1a' stroke='#1a1a1a' stroke-width='0.25'>0.02</text><line x1='227.92' y1='261.0' x2='227.92' y2='258.5' stroke='#333' stroke-width='0.8'/><text transform='translate(231.02,267) rotate(-90)' x='0' y='0' font-size='9' text-anchor='end' font-family='"Liberation Sans", sans-serif' fill='#1a1a1a' stroke='#1a1a1a' stroke-width='0.25'>0.03</text><line x1='250.36' y1='261.0' x2='250.36' y2='258.5' stroke='#333' stroke-width='0.8'/><text transform='translate(253.46,267) rotate(-90)' x='0' y='0' font-size='9' text-anchor='end' font-family='"Liberation Sans", sans-serif' fill='#1a1a1a' stroke='#1a1a1a' stroke-width='0.25'>0.04</text><text transform='translate(275.90,267) rotate(-90)' x='0' y='0' font-size='9' text-anchor='end' font-family='"Liberation Sans", sans-serif' fill='#1a1a1a' stroke='#1a1a1a' stroke-width='0.25'>0.05</text><text transform='translate(14.3,178.4) rotate(-90)' x='0' y='0' font-size='8.4' text-anchor='middle' font-family='"Liberation Sans", sans-serif' fill='#1a1a1a' stroke='#1a1a1a' stroke-width='0.25' textLength='19.2' lengthAdjust='spacingAndGlyphs'>RDG</text><text x='129.6' y='305' font-size='8.6' font-family='"Liberation Sans", sans-serif' fill='#1a1a1a' stroke='#1a1a1a' stroke-width='0.25' textLength='61.4' lengthAdjust='spacingAndGlyphs'>sign(λ<tspan font-size='6' dy='2'>2</tspan><tspan dy='-2'>)ρ (a.u.)</tspan></text><text x='153.0' y='328.0' font-size='11' font-family='"Liberation Serif", "Times New Roman", serif' fill='#222' stroke='#222' stroke-width='0.05' textLength="12.2" lengthAdjust="spacingAndGlyphs" >(a)</text><text x='457.7' y='328.0' font-size='11' font-family='"Liberation Serif", "Times New Roman", serif' fill='#222' stroke='#222' stroke-width='0.05' textLength="13.7" lengthAdjust="spacingAndGlyphs" >(b)</text><g><line x1='388.0' y1='107.4' x2='394.2' y2='108.4' stroke='#006e78' stroke-width='3.1'/><line x1='388.0' y1='107.4' x2='394.2' y2='108.4' stroke='#10b8c4' stroke-width='1.8'/><line x1='400.4' y1='109.4' x2='394.2' y2='108.4' stroke='#8c8c8c' stroke-width='3.1'/><line x1='400.4' y1='109.4' x2='394.2' y2='108.4' stroke='#f0f0f0' stroke-width='1.8'/><circle cx='400.4' cy='109.4' r='2.9' fill='url(#aH)'/><line x1='415.5' y1='143.5' x2='423.2' y2='132.6' stroke='#006e78' stroke-width='3.1'/><line x1='415.5' y1='143.5' x2='423.2' y2='132.6' stroke='#10b8c4' stroke-width='1.8'/><line x1='431.0' y1='121.7' x2='423.2' y2='132.6' stroke='#8c8c8c' stroke-width='3.1'/><line x1='431.0' y1='121.7' x2='423.2' y2='132.6' stroke='#f0f0f0' stroke-width='1.8'/><circle cx='431.0' cy='121.7' r='2.6' fill='url(#aH)'/><line x1='377.6' y1='93.0' x2='382.8' y2='100.2' stroke='#8c8c8c' stroke-width='3.1'/><line x1='377.6' y1='93.0' x2='382.8' y2='100.2' stroke='#f0f0f0' stroke-width='1.8'/><line x1='388.0' y1='107.4' x2='382.8' y2='100.2' stroke='#006e78' stroke-width='3.1'/><line x1='388.0' y1='107.4' x2='382.8' y2='100.2' stroke='#10b8c4' stroke-width='1.8'/><line x1='388.0' y1='107.4' x2='388.9' y2='116.8' stroke='#006e78' stroke-width='3.1'/><line x1='388.0' y1='107.4' x2='388.9' y2='116.8' stroke='#10b8c4' stroke-width='1.8'/><line x1='389.8' y1='126.3' x2='388.9' y2='116.8' stroke='#00009a' stroke-width='3.1'/><line x1='389.8' y1='126.3' x2='388.9' y2='116.8' stroke='#2828ff' stroke-width='1.8'/><line x1='388.0' y1='107.4' x2='387.0' y2='109.0' stroke='#006e78' stroke-width='3.1'/><line x1='388.0' y1='107.4' x2='387.0' y2='109.0' stroke='#10b8c4' stroke-width='1.8'/><line x1='386.0' y1='110.6' x2='387.0' y2='109.0' stroke='#8c8c8c' stroke-width='3.1'/><line x1='386.0' y1='110.6' x2='387.0' y2='109.0' stroke='#f0f0f0' stroke-width='1.8'/><line x1='377.8' y1='125.8' x2='366.9' y2='123.9' stroke='#006e78' stroke-width='3.1'/><line x1='377.8' y1='125.8' x2='366.9' y2='123.9' stroke='#10b8c4' stroke-width='1.8'/><line x1='356.0' y1='122.0' x2='366.9' y2='123.9' stroke='#8c8c8c' stroke-width='3.1'/><line x1='356.0' y1='122.0' x2='366.9' y2='123.9' stroke='#f0f0f0' stroke-width='1.8'/><line x1='377.8' y1='125.8' x2='379.6' y2='132.4' stroke='#006e78' stroke-width='3.1'/><line x1='377.8' y1='125.8' x2='379.6' y2='132.4' stroke='#10b8c4' stroke-width='1.8'/><line x1='381.3' y1='139.0' x2='379.6' y2='132.4' stroke='#8c8c8c' stroke-width='3.1'/><line x1='381.3' y1='139.0' x2='379.6' y2='132.4' stroke='#f0f0f0' stroke-width='1.8'/><line x1='389.8' y1='126.3' x2='394.4' y2='120.9' stroke='#00009a' stroke-width='3.1'/><line x1='389.8' y1='126.3' x2='394.4' y2='120.9' stroke='#2828ff' stroke-width='1.8'/><line x1='399.0' y1='115.6' x2='394.4' y2='120.9' stroke='#006e78' stroke-width='3.1'/><line x1='399.0' y1='115.6' x2='394.4' y2='120.9' stroke='#10b8c4' stroke-width='1.8'/><line x1='399.0' y1='115.6' x2='402.8' y2='124.8' stroke='#006e78' stroke-width='3.1'/><line x1='399.0' y1='115.6' x2='402.8' y2='124.8' stroke='#10b8c4' stroke-width='1.8'/><line x1='406.5' y1='134.0' x2='402.8' y2='124.8' stroke='#00009a' stroke-width='3.1'/><line x1='406.5' y1='134.0' x2='402.8' y2='124.8' stroke='#2828ff' stroke-width='1.8'/><line x1='402.3' y1='141.0' x2='408.9' y2='142.2' stroke='#006e78' stroke-width='3.1'/><line x1='402.3' y1='141.0' x2='408.9' y2='142.2' stroke='#10b8c4' stroke-width='1.8'/><line x1='415.5' y1='143.5' x2='408.9' y2='142.2' stroke='#006e78' stroke-width='3.1'/><line x1='415.5' y1='143.5' x2='408.9' y2='142.2' stroke='#10b8c4' stroke-width='1.8'/><line x1='402.3' y1='141.0' x2='404.6' y2='145.8' stroke='#006e78' stroke-width='3.1'/><line x1='402.3' y1='141.0' x2='404.6' y2='145.8' stroke='#10b8c4' stroke-width='1.8'/><line x1='407.0' y1='150.6' x2='404.6' y2='145.8' stroke='#8c8c8c' stroke-width='3.1'/><line x1='407.0' y1='150.6' x2='404.6' y2='145.8' stroke='#f0f0f0' stroke-width='1.8'/><line x1='415.5' y1='143.5' x2='416.8' y2='135.2' stroke='#006e78' stroke-width='3.1'/><line x1='415.5' y1='143.5' x2='416.8' y2='135.2' stroke='#10b8c4' stroke-width='1.8'/><line x1='418.0' y1='126.8' x2='416.8' y2='135.2' stroke='#8c8c8c' stroke-width='3.1'/><line x1='418.0' y1='126.8' x2='416.8' y2='135.2' stroke='#f0f0f0' stroke-width='1.8'/><line x1='488.5' y1='110.0' x2='495.0' y2='105.5' stroke='#900000' stroke-width='3.1'/><line x1='488.5' y1='110.0' x2='495.0' y2='105.5' stroke='#f01010' stroke-width='1.8'/><line x1='501.5' y1='101.0' x2='495.0' y2='105.5' stroke='#8c8c8c' stroke-width='3.1'/><line x1='501.5' y1='101.0' x2='495.0' y2='105.5' stroke='#f0f0f0' stroke-width='1.8'/><line x1='478.0' y1='124.2' x2='472.5' y2='119.0' stroke='#006e78' stroke-width='3.1'/><line x1='478.0' y1='124.2' x2='472.5' y2='119.0' stroke='#10b8c4' stroke-width='1.8'/><line x1='467.0' y1='113.7' x2='472.5' y2='119.0' stroke='#8c8c8c' stroke-width='3.1'/><line x1='467.0' y1='113.7' x2='472.5' y2='119.0' stroke='#f0f0f0' stroke-width='1.8'/><line x1='447.3' y1='125.0' x2='451.1' y2='120.0' stroke='#900000' stroke-width='3.1'/><line x1='447.3' y1='125.0' x2='451.1' y2='120.0' stroke='#f01010' stroke-width='1.8'/><line x1='454.8' y1='115.0' x2='451.1' y2='120.0' stroke='#8c8c8c' stroke-width='3.1'/><line x1='454.8' y1='115.0' x2='451.1' y2='120.0' stroke='#f0f0f0' stroke-width='1.8'/><line x1='484.0' y1='157.0' x2='477.7' y2='151.6' stroke='#006e78' stroke-width='3.1'/><line x1='484.0' y1='157.0' x2='477.7' y2='151.6' stroke='#10b8c4' stroke-width='1.8'/><line x1='471.4' y1='146.2' x2='477.7' y2='151.6' stroke='#8c8c8c' stroke-width='3.1'/><line x1='471.4' y1='146.2' x2='477.7' y2='151.6' stroke='#f0f0f0' stroke-width='1.8'/><line x1='507.3' y1='173.6' x2='518.1' y2='167.6' stroke='#006e78' stroke-width='3.1'/><line x1='507.3' y1='173.6' x2='518.1' y2='167.6' stroke='#10b8c4' stroke-width='1.8'/><line x1='528.9' y1='161.5' x2='518.1' y2='167.6' stroke='#8c8c8c' stroke-width='3.1'/><line x1='528.9' y1='161.5' x2='518.1' y2='167.6' stroke='#f0f0f0' stroke-width='1.8'/><line x1='465.6' y1='171.5' x2='471.8' y2='175.1' stroke='#006e78' stroke-width='3.1'/><line x1='465.6' y1='171.5' x2='471.8' y2='175.1' stroke='#10b8c4' stroke-width='1.8'/><line x1='477.9' y1='178.7' x2='471.8' y2='175.1' stroke='#8c8c8c' stroke-width='3.1'/><line x1='477.9' y1='178.7' x2='471.8' y2='175.1' stroke='#f0f0f0' stroke-width='1.8'/><line x1='455.0' y1='212.9' x2='461.2' y2='211.7' stroke='#006e78' stroke-width='3.1'/><line x1='455.0' y1='212.9' x2='461.2' y2='211.7' stroke='#10b8c4' stroke-width='1.8'/><line x1='467.5' y1='210.5' x2='461.2' y2='211.7' stroke='#8c8c8c' stroke-width='3.1'/><line x1='467.5' y1='210.5' x2='461.2' y2='211.7' stroke='#f0f0f0' stroke-width='1.8'/><line x1='463.8' y1='237.3' x2='472.1' y2='241.2' stroke='#006e78' stroke-width='3.1'/><line x1='463.8' y1='237.3' x2='472.1' y2='241.2' stroke='#10b8c4' stroke-width='1.8'/><line x1='480.3' y1='245.0' x2='472.1' y2='241.2' stroke='#900000' stroke-width='3.1'/><line x1='480.3' y1='245.0' x2='472.1' y2='241.2' stroke='#f01010' stroke-width='1.8'/><line x1='440.6' y1='257.6' x2='438.8' y2='263.3' stroke='#006e78' stroke-width='3.1'/><line x1='440.6' y1='257.6' x2='438.8' y2='263.3' stroke='#10b8c4' stroke-width='1.8'/><line x1='437.0' y1='269.0' x2='438.8' y2='263.3' stroke='#8c8c8c' stroke-width='3.1'/><line x1='437.0' y1='269.0' x2='438.8' y2='263.3' stroke='#f0f0f0' stroke-width='1.8'/><line x1='395.7' y1='203.3' x2='386.2' y2='206.8' stroke='#006e78' stroke-width='3.1'/><line x1='395.7' y1='203.3' x2='386.2' y2='206.8' stroke='#10b8c4' stroke-width='1.8'/><line x1='376.7' y1='210.2' x2='386.2' y2='206.8' stroke='#8c8c8c' stroke-width='3.1'/><line x1='376.7' y1='210.2' x2='386.2' y2='206.8' stroke='#f0f0f0' stroke-width='1.8'/><line x1='417.2' y1='238.2' x2='411.7' y2='237.6' stroke='#006e78' stroke-width='3.1'/><line x1='417.2' y1='238.2' x2='411.7' y2='237.6' stroke='#10b8c4' stroke-width='1.8'/><line x1='406.2' y1='237.0' x2='411.7' y2='237.6' stroke='#8c8c8c' stroke-width='3.1'/><line x1='406.2' y1='237.0' x2='411.7' y2='237.6' stroke='#f0f0f0' stroke-width='1.8'/><circle cx='377.6' cy='93.0' r='3.9' fill='url(#aH)'/><circle cx='388.0' cy='107.4' r='5.6' fill='url(#aC)'/><circle cx='399.0' cy='115.6' r='5.6' fill='url(#aC)'/><circle cx='356.0' cy='122.0' r='4.4' fill='url(#aH)'/><circle cx='381.3' cy='139.0' r='3.1' fill='url(#aH)'/><circle cx='415.5' cy='143.5' r='6.3' fill='url(#aC)'/><circle cx='418.0' cy='126.8' r='3.0' fill='url(#aH)'/><circle cx='407.0' cy='150.6' r='3.1' fill='url(#aH)'/><circle cx='454.8' cy='115.0' r='3.4' fill='url(#aH)'/><circle cx='467.0' cy='113.7' r='4.3' fill='url(#aH)'/><circle cx='501.5' cy='101.0' r='3.9' fill='url(#aH)'/><circle cx='471.4' cy='146.2' r='4.6' fill='url(#aH)'/><circle cx='528.9' cy='161.5' r='4.8' fill='url(#aH)'/><circle cx='477.9' cy='178.7' r='3.2' fill='url(#aH)'/><circle cx='376.7' cy='210.2' r='4.2' fill='url(#aH)'/><circle cx='406.2' cy='237.0' r='3.6' fill='url(#aH)'/><circle cx='467.5' cy='210.5' r='4.0' fill='url(#aH)'/><circle cx='437.0' cy='269.0' r='3.9' fill='url(#aH)'/><circle cx='480.3' cy='245.0' r='4.4' fill='url(#aO)'/><ellipse cx='383.0' cy='228.0' rx='4.3' ry='2.9' transform='rotate(-10 383.0 228.0)' fill='url(#nGB)' /><ellipse cx='413.4' cy='276.3' rx='2.7' ry='10.8' transform='rotate(20 413.4 276.3)' fill='url(#nGr)' /><ellipse cx='402.6' cy='122.6' rx='1.3' ry='1.1' transform='rotate(0 402.6 122.6)' fill='#e01010' /><ellipse cx='405.0' cy='164.4' rx='6.4' ry='4.1' transform='rotate(0 405.0 164.4)' fill='#0a9a28' /><line x1='377.8' y1='125.8' x2='383.8' y2='126.0' stroke='#006e78' stroke-width='3.1'/><line x1='377.8' y1='125.8' x2='383.8' y2='126.0' stroke='#10b8c4' stroke-width='1.8'/><line x1='389.8' y1='126.3' x2='383.8' y2='126.0' stroke='#00009a' stroke-width='3.1'/><line x1='389.8' y1='126.3' x2='383.8' y2='126.0' stroke='#2828ff' stroke-width='1.8'/><line x1='377.8' y1='125.8' x2='379.9' y2='135.7' stroke='#006e78' stroke-width='3.1'/><line x1='377.8' y1='125.8' x2='379.9' y2='135.7' stroke='#10b8c4' stroke-width='1.8'/><line x1='382.0' y1='145.6' x2='379.9' y2='135.7' stroke='#8c8c8c' stroke-width='3.1'/><line x1='382.0' y1='145.6' x2='379.9' y2='135.7' stroke='#f0f0f0' stroke-width='1.8'/><line x1='389.8' y1='126.3' x2='398.1' y2='130.2' stroke='#00009a' stroke-width='3.1'/><line x1='389.8' y1='126.3' x2='398.1' y2='130.2' stroke='#2828ff' stroke-width='1.8'/><line x1='406.5' y1='134.0' x2='398.1' y2='130.2' stroke='#00009a' stroke-width='3.1'/><line x1='406.5' y1='134.0' x2='398.1' y2='130.2' stroke='#2828ff' stroke-width='1.8'/><line x1='406.5' y1='134.0' x2='404.4' y2='137.5' stroke='#00009a' stroke-width='3.1'/><line x1='406.5' y1='134.0' x2='404.4' y2='137.5' stroke='#2828ff' stroke-width='1.8'/><line x1='402.3' y1='141.0' x2='404.4' y2='137.5' stroke='#006e78' stroke-width='3.1'/><line x1='402.3' y1='141.0' x2='404.4' y2='137.5' stroke='#10b8c4' stroke-width='1.8'/><line x1='402.3' y1='141.0' x2='404.1' y2='148.2' stroke='#006e78' stroke-width='3.1'/><line x1='402.3' y1='141.0' x2='404.1' y2='148.2' stroke='#10b8c4' stroke-width='1.8'/><line x1='406.0' y1='155.5' x2='404.1' y2='148.2' stroke='#8c8c8c' stroke-width='3.1'/><line x1='406.0' y1='155.5' x2='404.1' y2='148.2' stroke='#f0f0f0' stroke-width='1.8'/><line x1='478.0' y1='124.2' x2='483.2' y2='117.1' stroke='#006e78' stroke-width='3.1'/><line x1='478.0' y1='124.2' x2='483.2' y2='117.1' stroke='#10b8c4' stroke-width='1.8'/><line x1='488.5' y1='110.0' x2='483.2' y2='117.1' stroke='#900000' stroke-width='3.1'/><line x1='488.5' y1='110.0' x2='483.2' y2='117.1' stroke='#f01010' stroke-width='1.8'/><line x1='478.0' y1='124.2' x2='486.6' y2='131.3' stroke='#006e78' stroke-width='3.1'/><line x1='478.0' y1='124.2' x2='486.6' y2='131.3' stroke='#10b8c4' stroke-width='1.8'/><line x1='495.1' y1='138.5' x2='486.6' y2='131.3' stroke='#900000' stroke-width='3.1'/><line x1='495.1' y1='138.5' x2='486.6' y2='131.3' stroke='#f01010' stroke-width='1.8'/><line x1='450.3' y1='155.6' x2='458.0' y2='163.6' stroke='#006e78' stroke-width='3.1'/><line x1='450.3' y1='155.6' x2='458.0' y2='163.6' stroke='#10b8c4' stroke-width='1.8'/><line x1='465.6' y1='171.5' x2='458.0' y2='163.6' stroke='#006e78' stroke-width='3.1'/><line x1='465.6' y1='171.5' x2='458.0' y2='163.6' stroke='#10b8c4' stroke-width='1.8'/><line x1='465.6' y1='171.5' x2='459.3' y2='181.2' stroke='#006e78' stroke-width='3.1'/><line x1='465.6' y1='171.5' x2='459.3' y2='181.2' stroke='#10b8c4' stroke-width='1.8'/><line x1='453.0' y1='191.0' x2='459.3' y2='181.2' stroke='#900000' stroke-width='3.1'/><line x1='453.0' y1='191.0' x2='459.3' y2='181.2' stroke='#f01010' stroke-width='1.8'/><line x1='465.6' y1='171.5' x2='474.8' y2='164.2' stroke='#006e78' stroke-width='3.1'/><line x1='465.6' y1='171.5' x2='474.8' y2='164.2' stroke='#10b8c4' stroke-width='1.8'/><line x1='484.0' y1='157.0' x2='474.8' y2='164.2' stroke='#006e78' stroke-width='3.1'/><line x1='484.0' y1='157.0' x2='474.8' y2='164.2' stroke='#10b8c4' stroke-width='1.8'/><line x1='484.0' y1='157.0' x2='489.6' y2='147.8' stroke='#006e78' stroke-width='3.1'/><line x1='484.0' y1='157.0' x2='489.6' y2='147.8' stroke='#10b8c4' stroke-width='1.8'/><line x1='495.1' y1='138.5' x2='489.6' y2='147.8' stroke='#900000' stroke-width='3.1'/><line x1='495.1' y1='138.5' x2='489.6' y2='147.8' stroke='#f01010' stroke-width='1.8'/><line x1='484.0' y1='157.0' x2='495.6' y2='165.3' stroke='#006e78' stroke-width='3.1'/><line x1='484.0' y1='157.0' x2='495.6' y2='165.3' stroke='#10b8c4' stroke-width='1.8'/><line x1='507.3' y1='173.6' x2='495.6' y2='165.3' stroke='#006e78' stroke-width='3.1'/><line x1='507.3' y1='173.6' x2='495.6' y2='165.3' stroke='#10b8c4' stroke-width='1.8'/><line x1='507.3' y1='173.6' x2='502.9' y2='179.1' stroke='#006e78' stroke-width='3.1'/><line x1='507.3' y1='173.6' x2='502.9' y2='179.1' stroke='#10b8c4' stroke-width='1.8'/><line x1='498.4' y1='184.5' x2='502.9' y2='179.1' stroke='#900000' stroke-width='3.1'/><line x1='498.4' y1='184.5' x2='502.9' y2='179.1' stroke='#f01010' stroke-width='1.8'/><line x1='498.4' y1='184.5' x2='504.4' y2='187.9' stroke='#900000' stroke-width='3.1'/><line x1='498.4' y1='184.5' x2='504.4' y2='187.9' stroke='#f01010' stroke-width='1.8'/><line x1='510.5' y1='191.3' x2='504.4' y2='187.9' stroke='#8c8c8c' stroke-width='3.1'/><line x1='510.5' y1='191.3' x2='504.4' y2='187.9' stroke='#f0f0f0' stroke-width='1.8'/><line x1='453.0' y1='191.0' x2='454.0' y2='201.9' stroke='#900000' stroke-width='3.1'/><line x1='453.0' y1='191.0' x2='454.0' y2='201.9' stroke='#f01010' stroke-width='1.8'/><line x1='455.0' y1='212.9' x2='454.0' y2='201.9' stroke='#006e78' stroke-width='3.1'/><line x1='455.0' y1='212.9' x2='454.0' y2='201.9' stroke='#10b8c4' stroke-width='1.8'/><line x1='455.0' y1='212.9' x2='459.4' y2='225.1' stroke='#006e78' stroke-width='3.1'/><line x1='455.0' y1='212.9' x2='459.4' y2='225.1' stroke='#10b8c4' stroke-width='1.8'/><line x1='463.8' y1='237.3' x2='459.4' y2='225.1' stroke='#006e78' stroke-width='3.1'/><line x1='463.8' y1='237.3' x2='459.4' y2='225.1' stroke='#10b8c4' stroke-width='1.8'/><line x1='463.8' y1='237.3' x2='468.1' y2='233.2' stroke='#006e78' stroke-width='3.1'/><line x1='463.8' y1='237.3' x2='468.1' y2='233.2' stroke='#10b8c4' stroke-width='1.8'/><line x1='472.3' y1='229.2' x2='468.1' y2='233.2' stroke='#8c8c8c' stroke-width='3.1'/><line x1='472.3' y1='229.2' x2='468.1' y2='233.2' stroke='#f0f0f0' stroke-width='1.8'/><line x1='463.8' y1='237.3' x2='452.2' y2='247.5' stroke='#006e78' stroke-width='3.1'/><line x1='463.8' y1='237.3' x2='452.2' y2='247.5' stroke='#10b8c4' stroke-width='1.8'/><line x1='440.6' y1='257.6' x2='452.2' y2='247.5' stroke='#006e78' stroke-width='3.1'/><line x1='440.6' y1='257.6' x2='452.2' y2='247.5' stroke='#10b8c4' stroke-width='1.8'/><line x1='440.6' y1='257.6' x2='428.9' y2='247.9' stroke='#006e78' stroke-width='3.1'/><line x1='440.6' y1='257.6' x2='428.9' y2='247.9' stroke='#10b8c4' stroke-width='1.8'/><line x1='417.2' y1='238.2' x2='428.9' y2='247.9' stroke='#006e78' stroke-width='3.1'/><line x1='417.2' y1='238.2' x2='428.9' y2='247.9' stroke='#10b8c4' stroke-width='1.8'/><line x1='440.6' y1='257.6' x2='442.1' y2='270.4' stroke='#006e78' stroke-width='3.1'/><line x1='440.6' y1='257.6' x2='442.1' y2='270.4' stroke='#10b8c4' stroke-width='1.8'/><line x1='443.6' y1='283.2' x2='442.1' y2='270.4' stroke='#900000' stroke-width='3.1'/><line x1='443.6' y1='283.2' x2='442.1' y2='270.4' stroke='#f01010' stroke-width='1.8'/><line x1='443.6' y1='283.2' x2='454.1' y2='283.8' stroke='#900000' stroke-width='3.1'/><line x1='443.6' y1='283.2' x2='454.1' y2='283.8' stroke='#f01010' stroke-width='1.8'/><line x1='464.5' y1='284.3' x2='454.1' y2='283.8' stroke='#8c8c8c' stroke-width='3.1'/><line x1='464.5' y1='284.3' x2='454.1' y2='283.8' stroke='#f0f0f0' stroke-width='1.8'/><line x1='417.2' y1='238.2' x2='403.4' y2='247.3' stroke='#006e78' stroke-width='3.1'/><line x1='417.2' y1='238.2' x2='403.4' y2='247.3' stroke='#10b8c4' stroke-width='1.8'/><line x1='389.5' y1='256.5' x2='403.4' y2='247.3' stroke='#900000' stroke-width='3.1'/><line x1='389.5' y1='256.5' x2='403.4' y2='247.3' stroke='#f01010' stroke-width='1.8'/><line x1='389.5' y1='256.5' x2='390.7' y2='266.4' stroke='#900000' stroke-width='3.1'/><line x1='389.5' y1='256.5' x2='390.7' y2='266.4' stroke='#f01010' stroke-width='1.8'/><line x1='391.9' y1='276.3' x2='390.7' y2='266.4' stroke='#8c8c8c' stroke-width='3.1'/><line x1='391.9' y1='276.3' x2='390.7' y2='266.4' stroke='#f0f0f0' stroke-width='1.8'/><line x1='417.2' y1='238.2' x2='414.2' y2='230.7' stroke='#006e78' stroke-width='3.1'/><line x1='417.2' y1='238.2' x2='414.2' y2='230.7' stroke='#10b8c4' stroke-width='1.8'/><line x1='411.2' y1='223.2' x2='414.2' y2='230.7' stroke='#006e78' stroke-width='3.1'/><line x1='411.2' y1='223.2' x2='414.2' y2='230.7' stroke='#10b8c4' stroke-width='1.8'/><line x1='411.2' y1='223.2' x2='403.4' y2='213.2' stroke='#006e78' stroke-width='3.1'/><line x1='411.2' y1='223.2' x2='403.4' y2='213.2' stroke='#10b8c4' stroke-width='1.8'/><line x1='395.7' y1='203.3' x2='403.4' y2='213.2' stroke='#006e78' stroke-width='3.1'/><line x1='395.7' y1='203.3' x2='403.4' y2='213.2' stroke='#10b8c4' stroke-width='1.8'/><line x1='395.7' y1='203.3' x2='399.3' y2='192.4' stroke='#006e78' stroke-width='3.1'/><line x1='395.7' y1='203.3' x2='399.3' y2='192.4' stroke='#10b8c4' stroke-width='1.8'/><line x1='402.9' y1='181.6' x2='399.3' y2='192.4' stroke='#900000' stroke-width='3.1'/><line x1='402.9' y1='181.6' x2='399.3' y2='192.4' stroke='#f01010' stroke-width='1.8'/><line x1='402.9' y1='181.6' x2='410.8' y2='182.4' stroke='#900000' stroke-width='3.1'/><line x1='402.9' y1='181.6' x2='410.8' y2='182.4' stroke='#f01010' stroke-width='1.8'/><line x1='418.6' y1='183.3' x2='410.8' y2='182.4' stroke='#8c8c8c' stroke-width='3.1'/><line x1='418.6' y1='183.3' x2='410.8' y2='182.4' stroke='#f0f0f0' stroke-width='1.8'/><line x1='411.2' y1='223.2' x2='415.0' y2='222.6' stroke='#006e78' stroke-width='3.1'/><line x1='411.2' y1='223.2' x2='415.0' y2='222.6' stroke='#10b8c4' stroke-width='1.8'/><line x1='418.9' y1='222.0' x2='415.0' y2='222.6' stroke='#8c8c8c' stroke-width='3.1'/><line x1='418.9' y1='222.0' x2='415.0' y2='222.6' stroke='#f0f0f0' stroke-width='1.8'/><line x1='411.2' y1='223.2' x2='420.8' y2='218.8' stroke='#006e78' stroke-width='3.1'/><line x1='411.2' y1='223.2' x2='420.8' y2='218.8' stroke='#10b8c4' stroke-width='1.8'/><line x1='430.4' y1='214.4' x2='420.8' y2='218.8' stroke='#900000' stroke-width='3.1'/><line x1='430.4' y1='214.4' x2='420.8' y2='218.8' stroke='#f01010' stroke-width='1.8'/><line x1='430.4' y1='214.4' x2='442.7' y2='213.7' stroke='#900000' stroke-width='3.1'/><line x1='430.4' y1='214.4' x2='442.7' y2='213.7' stroke='#f01010' stroke-width='1.8'/><line x1='455.0' y1='212.9' x2='442.7' y2='213.7' stroke='#006e78' stroke-width='3.1'/><line x1='455.0' y1='212.9' x2='442.7' y2='213.7' stroke='#10b8c4' stroke-width='1.8'/><ellipse cx='395.5' cy='153.2' rx='5.4' ry='2.7' transform='rotate(-22 395.5 153.2)' fill='#b08018' /><ellipse cx='515.0' cy='225.0' rx='13.2' ry='3.7' transform='rotate(-9 515.0 225.0)' fill='url(#nDG)' /><ellipse cx='391.0' cy='159.7' rx='7.8' ry='1.9' transform='rotate(-24 391.0 159.7)' fill='#18c020' /><line x1='466.5' y1='134.5' x2='473.5' y2='128.5' stroke='#7a2410' stroke-width='2.4' stroke-linecap='round'/><circle cx='377.8' cy='125.8' r='7.4' fill='url(#aC)'/><circle cx='389.8' cy='126.3' r='5.9' fill='url(#aN)'/><circle cx='406.5' cy='134.0' r='5.3' fill='url(#aN)'/><circle cx='402.3' cy='141.0' r='6.3' fill='url(#aC)'/><circle cx='382.0' cy='145.6' r='4.7' fill='url(#aH)'/><circle cx='406.0' cy='155.5' r='4.1' fill='url(#aH)'/><circle cx='478.0' cy='124.2' r='7.3' fill='url(#aC)'/><circle cx='488.5' cy='110.0' r='5.8' fill='url(#aO)'/><circle cx='495.1' cy='138.5' r='6.8' fill='url(#aO)'/><circle cx='465.6' cy='171.5' r='6.9' fill='url(#aC)'/><circle cx='402.9' cy='181.6' r='6.6' fill='url(#aO)'/><circle cx='484.0' cy='157.0' r='7.6' fill='url(#aC)'/><circle cx='507.3' cy='173.6' r='7.6' fill='url(#aC)'/><circle cx='510.5' cy='191.3' r='4.3' fill='url(#aH)'/><circle cx='395.7' cy='203.3' r='7.3' fill='url(#aC)'/><circle cx='411.2' cy='223.2' r='7.3' fill='url(#aC)'/><circle cx='389.5' cy='256.5' r='8.4' fill='url(#aO)'/><circle cx='391.9' cy='276.3' r='6.1' fill='url(#aH)'/><circle cx='455.0' cy='212.9' r='7.3' fill='url(#aC)'/><circle cx='463.8' cy='237.3' r='7.3' fill='url(#aC)'/><circle cx='440.6' cy='257.6' r='8.4' fill='url(#aC)'/><circle cx='443.6' cy='283.2' r='9.0' fill='url(#aO)'/><circle cx='464.5' cy='284.3' r='6.3' fill='url(#aH)'/><circle cx='509.3' cy='207.1' r='6.0' fill='url(#aH)'/><path d='M424.5,124 C427,121.5 431,121.5 434,124 C437,129 440,136 440.6,143 C440.5,147 439,150 436,151 C432,151.5 428.5,150.5 426.5,148 C425,140 424.2,132 424.5,124 Z' fill='url(#nGold3)' /><ellipse cx='428.0' cy='131.5' rx='3.3' ry='7.6' transform='rotate(-6 428.0 131.5)' fill='#12c81e' /><ellipse cx='434.6' cy='138.5' rx='4.4' ry='5.3' transform='rotate(0 434.6 138.5)' fill='#12c81e' /><path d='M439.6,135 C441,131.5 446,130.5 451,131.5 C455.5,133 458,138 458.5,144 C458,149 455,152.3 450,152.5 C445,152.3 441,150 439.8,145 C439.3,141.5 439.2,138 439.6,135 Z' fill='url(#nY)' /><ellipse cx='449.6' cy='138.4' rx='5.0' ry='5.8' transform='rotate(0 449.6 138.4)' fill='url(#nGb)' /><ellipse cx='462.0' cy='148.6' rx='4.4' ry='7.4' transform='rotate(-8 462.0 148.6)' fill='url(#nGb)' /><ellipse cx='443.6' cy='150.2' rx='2.8' ry='2.4' transform='rotate(0 443.6 150.2)' fill='#12c81e' /><line x1='436.8' y1='219.5' x2='437.6' y2='237.5' stroke='#a02810' stroke-width='3.4' stroke-linecap='round'/><line x1='462.4' y1='137.2' x2='454.9' y2='131.1' stroke='#006e78' stroke-width='3.1'/><line x1='462.4' y1='137.2' x2='454.9' y2='131.1' stroke='#10b8c4' stroke-width='1.8'/><line x1='447.3' y1='125.0' x2='454.9' y2='131.1' stroke='#900000' stroke-width='3.1'/><line x1='447.3' y1='125.0' x2='454.9' y2='131.1' stroke='#f01010' stroke-width='1.8'/><line x1='462.4' y1='137.2' x2='456.4' y2='146.4' stroke='#006e78' stroke-width='3.1'/><line x1='462.4' y1='137.2' x2='456.4' y2='146.4' stroke='#10b8c4' stroke-width='1.8'/><line x1='450.3' y1='155.6' x2='456.4' y2='146.4' stroke='#006e78' stroke-width='3.1'/><line x1='450.3' y1='155.6' x2='456.4' y2='146.4' stroke='#10b8c4' stroke-width='1.8'/><circle cx='430.4' cy='214.4' r='3.2' fill='url(#aO)'/><path d='M428,212 C431,213 435,214 439.5,216.5 L439.5,222.5 C436,221.5 431,219 427.5,217 Z' fill='#9a2a10' /><path d='M405.2,206.2 Q414,202.2 424.5,201.4' fill='none' stroke='#0c8c18' stroke-width='5.6' stroke-linecap='round'/><path d='M406.2,204.2 Q414,200.6 423.5,199.9' fill='none' stroke='#30b830' stroke-width='2' stroke-linecap='round'/><ellipse cx='426.2' cy='201.6' rx='4.8' ry='3.0' transform='rotate(0 426.2 201.6)' fill='#c89a28' /><path d='M428.5,203.5 Q436.5,205.5 440,213' fill='none' stroke='#10a018' stroke-width='5.6' stroke-linecap='round'/><path d='M429,202.2 Q437,203.8 441.2,210.5' fill='none' stroke='#30c030' stroke-width='1.8' stroke-linecap='round'/><circle cx='462.4' cy='137.2' r='5.8' fill='url(#aC)'/><circle cx='386.0' cy='110.6' r='3.6' fill='url(#aH)'/><circle cx='498.4' cy='184.5' r='9.3' fill='url(#aO)'/><circle cx='418.9' cy='222.0' r='4.4' fill='url(#aH)'/><circle cx='417.2' cy='238.2' r='7.8' fill='url(#aC)'/><circle cx='472.3' cy='229.2' r='4.9' fill='url(#aH)'/><ellipse cx='456.3' cy='132.0' rx='2.6' ry='3.2' transform='rotate(0 456.3 132.0)' fill='#12c81e' /><ellipse cx='441.5' cy='124.5' rx='1.8' ry='4.0' transform='rotate(0 441.5 124.5)' fill='#12c81e' /><ellipse cx='421.6' cy='148.8' rx='3.5' ry='8.4' transform='rotate(6 421.6 148.8)' fill='#12c81e' /><ellipse cx='429.4' cy='157.5' rx='4.8' ry='3.8' transform='rotate(0 429.4 157.5)' fill='#0a9a28' /><ellipse cx='484.6' cy='279.0' rx='3.5' ry='12.8' transform='rotate(-10 484.6 279.0)' fill='url(#nGv)' /><path d='M415.7,155.5 C419,154 423,155 426.3,159.4 C429,164 432,167 434.5,171 C436.5,175 435,179 431.5,182 C431,188 430.5,194 430.5,201 L422.5,201 C422.5,195 422.4,190 421.5,185 C419,178 416.6,168 415.7,155.5 Z' fill='url(#nOrB)' /><path d='M487,230 C489,232.5 492,233 494,232 C496,238 499,244 502,250 L507.7,262 C505,266 500,268.5 494,267.7 C490,267.5 488,268 486,270 C483,268 481,265 479,262.5 C476,261.5 473,260.5 471,259.5 C469.5,258.8 468.5,258.2 468.2,257.8 C470,255.5 474,253.5 478,252.9 C481,250 482.5,245 483,240 C484,236 485.5,232.5 487,230 Z' fill='url(#nOr2)' /><path d='M415.7,155.5 C416.5,168 419,178 421.5,185 C422.4,190 422.5,195 422.5,201 L424.5,201 C424.5,193 423.5,186 422,180 C419.5,172 417.5,163 415.7,155.5 Z' fill='#8a5a12' /><path d='M422,182 C425,180 429,180 431.5,182 L431,201 L422.5,201 Z' fill='#c06018' /><path d='M482.2,251 C485,244 489,238 494.5,234.5 C496,239 496.5,245 496,252 C493,255 489,257.5 486,258 C484,256 482.8,253.5 482.2,251 Z' fill='#12c81e' /><path d='M468.2,257.8 C470,255.5 474,253.5 478,252.9 C476,255 474,257.5 473,260.5 C471,259.5 469,258.5 468.2,257.8 Z' fill='#5a2a08' /><line x1='450.3' y1='155.6' x2='445.5' y2='161.4' stroke='#006e78' stroke-width='3.1'/><line x1='450.3' y1='155.6' x2='445.5' y2='161.4' stroke='#10b8c4' stroke-width='1.8'/><line x1='440.6' y1='167.2' x2='445.5' y2='161.4' stroke='#900000' stroke-width='3.1'/><line x1='440.6' y1='167.2' x2='445.5' y2='161.4' stroke='#f01010' stroke-width='1.8'/><line x1='450.3' y1='155.6' x2='443.9' y2='152.3' stroke='#006e78' stroke-width='3.1'/><line x1='450.3' y1='155.6' x2='443.9' y2='152.3' stroke='#10b8c4' stroke-width='1.8'/><line x1='437.4' y1='149.0' x2='443.9' y2='152.3' stroke='#8c8c8c' stroke-width='3.1'/><line x1='437.4' y1='149.0' x2='443.9' y2='152.3' stroke='#f0f0f0' stroke-width='1.8'/><ellipse cx='437.0' cy='126.5' rx='5.0' ry='6.3' transform='rotate(0 437.0 126.5)' fill='url(#nGb)' /><path d='M419.5,166 C424,168 428,172 430.5,178 C431,183 429.5,187 427,188 C423,185.5 420.5,176 419.5,166 Z' fill='#0a9a28' /><ellipse cx='418.2' cy='158.5' rx='2.0' ry='2.5' transform='rotate(0 418.2 158.5)' fill='#12c81e' /><path d='M466.7,181 C468,179.8 471,179.5 474.9,184 C477.9,188.4 479.4,193 480.9,197.4 C482,199.5 486,202 489.9,204.9 C493,207.5 496,210.5 500.3,213.8 C504,215.8 509.3,216.1 514,216.2 L519.7,216.5 C522,216.8 523.5,217.6 522.7,218.3 C521.5,219.3 519.7,219.3 514,219.6 L509.3,219.8 C505,219.8 500.3,219.2 495.8,216.8 L493.5,215.8 C495,218.3 495.8,222.8 495.3,228 C494,231 491.5,233 489,233 C486,232 484,229 483.9,228 C483.1,222.8 480.9,218.3 477.9,213.8 C473.4,209.3 469,205.6 467.5,201.9 C469,199 466.7,193 466,187 Z' fill='url(#nGold2)' /><path d='M467,184 C469,181 472,182 474.5,185.5 C476.5,189 477,193 476.5,197 C474,199 470,199 468,197 C466.5,193 466.3,188 467,184 Z' fill='#12c81e' /><path d='M473.4,206 C477,204.5 482,205.5 486,208 C489,211 490,214 489.9,217.6 C487,219 483.5,219 481,217.5 C478.5,213.5 476,210 473.4,206 Z' fill='#12c81e' /><path d='M482.4,218 C485,216.8 489,216.8 491.3,218.5 L491,221.3 C488,222.3 485,222 483.1,221.5 Z' fill='#12c81e' /><path d='M476,185 C478,189 479.5,193 480.6,197 C481.5,199 484,201 486,202.5 C483,202 480.5,200 479,197 C477.8,193 477,189 476,185 Z' fill='#a06010' /><path d='M497,214.6 C503,216.3 510,216.3 519.7,216.5 C521.5,216.6 522.5,217 522.7,217.6 C519,217.3 510,217.3 503,217 C500,216.5 498,215.5 497,214.6 Z' fill='#f0e070' /><path d='M431,180.5 C436,178.5 443,178.5 447.5,181.5 C450,185 449,190 445,193.5 C440,195.5 435,195 431,192 Z' fill='url(#nOr)' /><ellipse cx='506.8' cy='259.8' rx='8.9' ry='10.6' transform='rotate(-8 506.8 259.8)' fill='url(#aT)' /><path d='M431,191 C435,194.5 441,195.5 445,193.5 C442,196 436,196.5 431,194.5 Z' fill='#0a9a28' /><line x1='431.2' y1='181.5' x2='431.2' y2='191.5' stroke='#008a90' stroke-width='2.2' stroke-linecap='round'/><ellipse cx='439.8' cy='184.7' rx='2.6' ry='1.6' transform='rotate(0 439.8 184.7)' fill='#12c81e' /><line x1='456' y1='139' x2='468' y2='144.5' stroke='#7a2410' stroke-width='2.6' stroke-linecap='round'/><circle cx='447.3' cy='125.0' r='5.3' fill='url(#aO)'/><circle cx='450.3' cy='155.6' r='6.9' fill='url(#aC)'/><circle cx='440.6' cy='167.2' r='5.0' fill='url(#aO)'/><circle cx='453.0' cy='191.0' r='6.3' fill='url(#aO)'/><ellipse cx='412.8' cy='119.8' rx='6.0' ry='3.7' transform='rotate(-14 412.8 119.8)' fill='url(#nGO)' /><circle cx='437.4' cy='149.0' r='4.1' fill='url(#aH)'/><circle cx='418.6' cy='183.3' r='4.1' fill='url(#aH)'/><ellipse cx='530.0' cy='270.3' rx='14.4' ry='13.4' transform='rotate(-35 530 270.3)' fill='url(#aP)'/></g></svg>
</body></html>
